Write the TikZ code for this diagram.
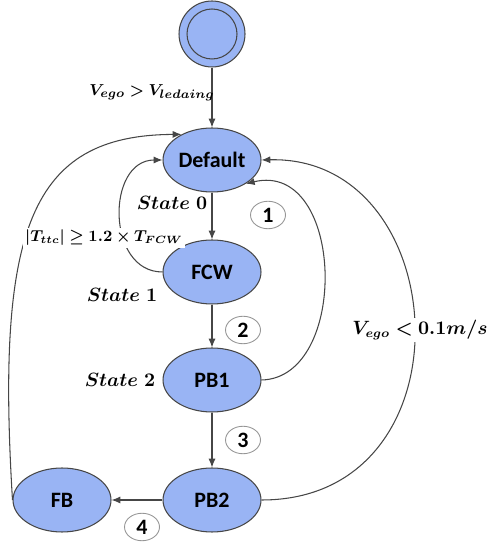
\documentclass[tikz,border=0pt]{standalone}
\usepackage{amsmath, amssymb, bm}
\usepackage{fontspec}
\usepackage{tikz}
\usetikzlibrary{shapes.geometric, arrows.meta}
\newfontfamily\calib{Carlito}
\definecolor{stfill}{RGB}{153,180,244}
\definecolor{stline}{RGB}{70,70,70}
\definecolor{numline}{RGB}{150,150,150}

\begin{document}
\begin{tikzpicture}[x=0.02cm, y=0.02cm,
    state/.style={ellipse, draw=stline, fill=stfill, line width=0.6pt,
      minimum width=1.96cm, minimum height=1.28cm, inner sep=0pt,
      font=\calib\bfseries\fontsize{12.5}{14}\selectfont},
    num/.style={ellipse, draw=numline, fill=white, line width=0.5pt,
      minimum width=0.7cm, minimum height=0.55cm, inner sep=0pt,
      font=\calib\bfseries\fontsize{12.5}{14}\selectfont},
    lbl/.style={inner sep=1pt},
    edge/.style={draw=stline, line width=0.6pt, -{Latex[length=5pt, width=4pt]}}]
  \useasboundingbox (0,0) rectangle (492,550);

  % initial state
  \node[circle, draw=stline, fill=stfill, line width=0.6pt, minimum size=1.32cm] (init) at (212,516) {};
  \node[circle, draw=stline, line width=0.6pt, minimum size=1.0cm] (initin) at (212,516) {};

  % states
  \node[state] (def) at (212,390) {Default};
  \node[state] (fcw) at (212,278) {FCW};
  \node[state] (pb1) at (212,170) {PB1};
  \node[state] (pb2) at (212,50) {PB2};
  \node[state] (fb) at (62,50) {FB};

  % straight transitions
  \draw[edge] (init) -- (def);
  \draw[edge] (def) -- (fcw);
  \draw[edge] (fcw) -- (pb1);
  \draw[edge] (pb1) -- (pb2);
  \draw[edge] (pb2) -- (fb);

  % return transitions
  \draw[edge] (fb.west) .. controls (-4,320) and (30,415) .. (def.140);
  \draw[edge] (fcw.west) .. controls (106,278) and (106,390) .. (def.west);
  \draw[edge] (pb1.east) .. controls (350,172) and (345,390) .. (def.-35);
  \draw[edge] (pb2.east) .. controls (475,50) and (455,395) .. (def.east);

  % step numbers
  \node[num] (n1) at (268,335) {1};
  \node[num] (n2) at (243,220) {2};
  \node[num] (n3) at (243,110) {3};
  \node[num] (n4) at (142,23) {4};

  % state names
  \node[lbl] (st0) at (172,347) {\fontsize{10.5}{12}\selectfont $\bm{State~0}$};
  \node[lbl] (st1) at (122,255) {\fontsize{10.5}{12}\selectfont $\bm{State~1}$};
  \node[lbl] (st2) at (120,170) {\fontsize{10.5}{12}\selectfont $\bm{State~2}$};

  % conditions
  \node[lbl] (c0) at (152,457) {\fontsize{9.5}{11}\selectfont $\bm{V_{ego} > V_{ledaing}}$};
  \node[lbl, fill=white] (c1) at (104,312) {\fontsize{8.8}{10}\selectfont $\bm{|T_{ttc}| \geq 1.2 \times T_{FCW}}$};
  \node[lbl, fill=white] (c2) at (420,220) {\fontsize{10.5}{12}\selectfont $\bm{V_{ego} < 0.1 m/s}$};
\end{tikzpicture}
\end{document}
